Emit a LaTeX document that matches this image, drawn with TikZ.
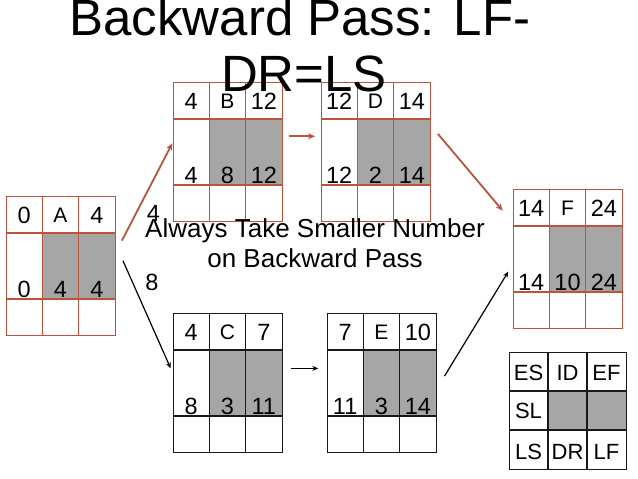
\documentclass[tikz,border=0pt]{standalone}
\usepackage{fontspec}
\setmainfont{Liberation Sans}
\usetikzlibrary{arrows.meta}
\definecolor{boxred}{RGB}{190,82,60}
\definecolor{cellgray}{RGB}{166,166,166}
\definecolor{boxblack}{RGB}{25,25,25}
\tikzset{
  boxline/.style={line width=1.2pt},
  numtext/.style={anchor=base, inner sep=0pt, font=\fontsize{23.5}{23.5}\selectfont},
  lettext/.style={anchor=base, inner sep=0pt, font=\fontsize{21}{21}\selectfont},
  legtext/.style={anchor=base, inner sep=0pt, font=\fontsize{22}{22}\selectfont},
  titletext/.style={anchor=base, inner sep=0pt, font=\fontsize{51}{51}\selectfont},
  notetext/.style={anchor=base, inner sep=0pt, font=\fontsize{26}{26}\selectfont},
  redarrow/.style={draw=boxred, line width=1.8pt, -{Stealth[length=7pt,width=6pt]}},
  blackarrow/.style={draw=black, line width=1.2pt, -{Stealth[length=6pt,width=5pt]}}
}
\newcommand\actbox[4]{% name, x, y, colour
  \fill[cellgray] (#2+36.33,#3+37) rectangle (#2+109,#3+103);
  \draw[#4, boxline] (#2,#3+37) -- (#2+109,#3+37) (#2,#3+103) -- (#2+109,#3+103)
    (#2+36.33,#3) -- (#2+36.33,#3+139) (#2+72.67,#3) -- (#2+72.67,#3+139);
  \node[draw=#4, boxline, minimum width=109pt, minimum height=139pt, inner sep=0pt, anchor=north west] (#1) at (#2,#3) {};
}
\newcommand\acttext[7]{% name, ES, ID, EF, LS, DR, LF
  \node[numtext] (#1es) at ([shift={(18.17,27)}]#1.north west) {#2};
  \node[lettext] (#1id) at ([shift={(54.5,26.5)}]#1.north west) {#3};
  \node[numtext] (#1ef) at ([shift={(90.83,27)}]#1.north west) {#4};
  \node[numtext] (#1ls) at ([shift={(18.17,101)}]#1.north west) {#5};
  \node[numtext] (#1dr) at ([shift={(54.5,101)}]#1.north west) {#6};
  \node[numtext] (#1lf) at ([shift={(90.83,101)}]#1.north west) {#7};
}
\begin{document}
\begin{tikzpicture}[x=1pt,y=-1pt]
\useasboundingbox (0,0) rectangle (638,479);
\fill[white] (0,0) rectangle (638,479);

\actbox{A}{6}{196}{boxred}
\acttext{A}{0}{A}{4}{0}{4}{4}
\actbox{B}{173}{82}{boxred}
\acttext{B}{4}{B}{12}{4}{8}{12}
\actbox{D}{321}{82}{boxred}
\acttext{D}{12}{D}{14}{12}{2}{14}
\actbox{F}{513}{189}{boxred}
\acttext{F}{14}{F}{24}{14}{10}{24}
\actbox{C}{173}{313}{boxblack}
\acttext{C}{4}{C}{7}{8}{3}{11}
\actbox{E}{327}{313}{boxblack}
\acttext{E}{7}{E}{10}{11}{3}{14}

% legend
\fill[cellgray] (548,391) rectangle (626,430);
\draw[boxblack, boxline] (509,391) -- (626,391) (509,430) -- (626,430)
  (548,352) -- (548,469) (587,352) -- (587,469);
\node[draw=boxblack, boxline, minimum width=117pt, minimum height=117pt, inner sep=0pt, anchor=north west] (L) at (509,352) {};
\node[legtext] (Les) at (528.5,380) {ES};
\node[legtext] (Lid) at (567.5,380) {ID};
\node[legtext] (Lef) at (606.5,380) {EF};
\node[legtext] (Lsl) at (528.5,418) {SL};
\node[legtext] (Lls) at (528.5,459) {LS};
\node[legtext] (Ldr) at (567.5,459) {DR};
\node[legtext] (Llf) at (606.5,459) {LF};

% connectors
\draw[redarrow] ([shift={(5.7,-25.5)}]A.east) -- ([shift={(-0.7,-8.8)}]B.west);
\draw[redarrow] ([shift={(5.7,-15.8)}]B.east) -- ([shift={(-6,-15.8)}]D.west);
\draw[redarrow] ([shift={(6.7,-18.2)}]D.east) -- ([shift={(-10.3,21.7)}]F.north west);
\draw[blackarrow] ([shift={(6.7,-5.5)}]A.east) -- ([shift={(-2.3,-14.7)}]C.west);
\draw[blackarrow] ([shift={(8,-14.7)}]C.east) -- ([shift={(-8.7,-14.7)}]E.west);
\draw[blackarrow] ([shift={(7.3,-7)}]E.east) -- ([shift={(-4.7,12.5)}]F.west);

% labels
\node[numtext] (lab4) at (153.5,221.5) {4};
\node[numtext] (lab8) at (152,290) {8};
\node[notetext] (note1) at (315,237) {Always Take Smaller Number};
\node[notetext] (note2) at (315,267) {on Backward Pass};

% title
\node[titletext] (title1) at (300,35) {Backward Pass: LF-};
\node[titletext] (title2) at (304,91) {DR=LS};
\end{tikzpicture}
\end{document}
